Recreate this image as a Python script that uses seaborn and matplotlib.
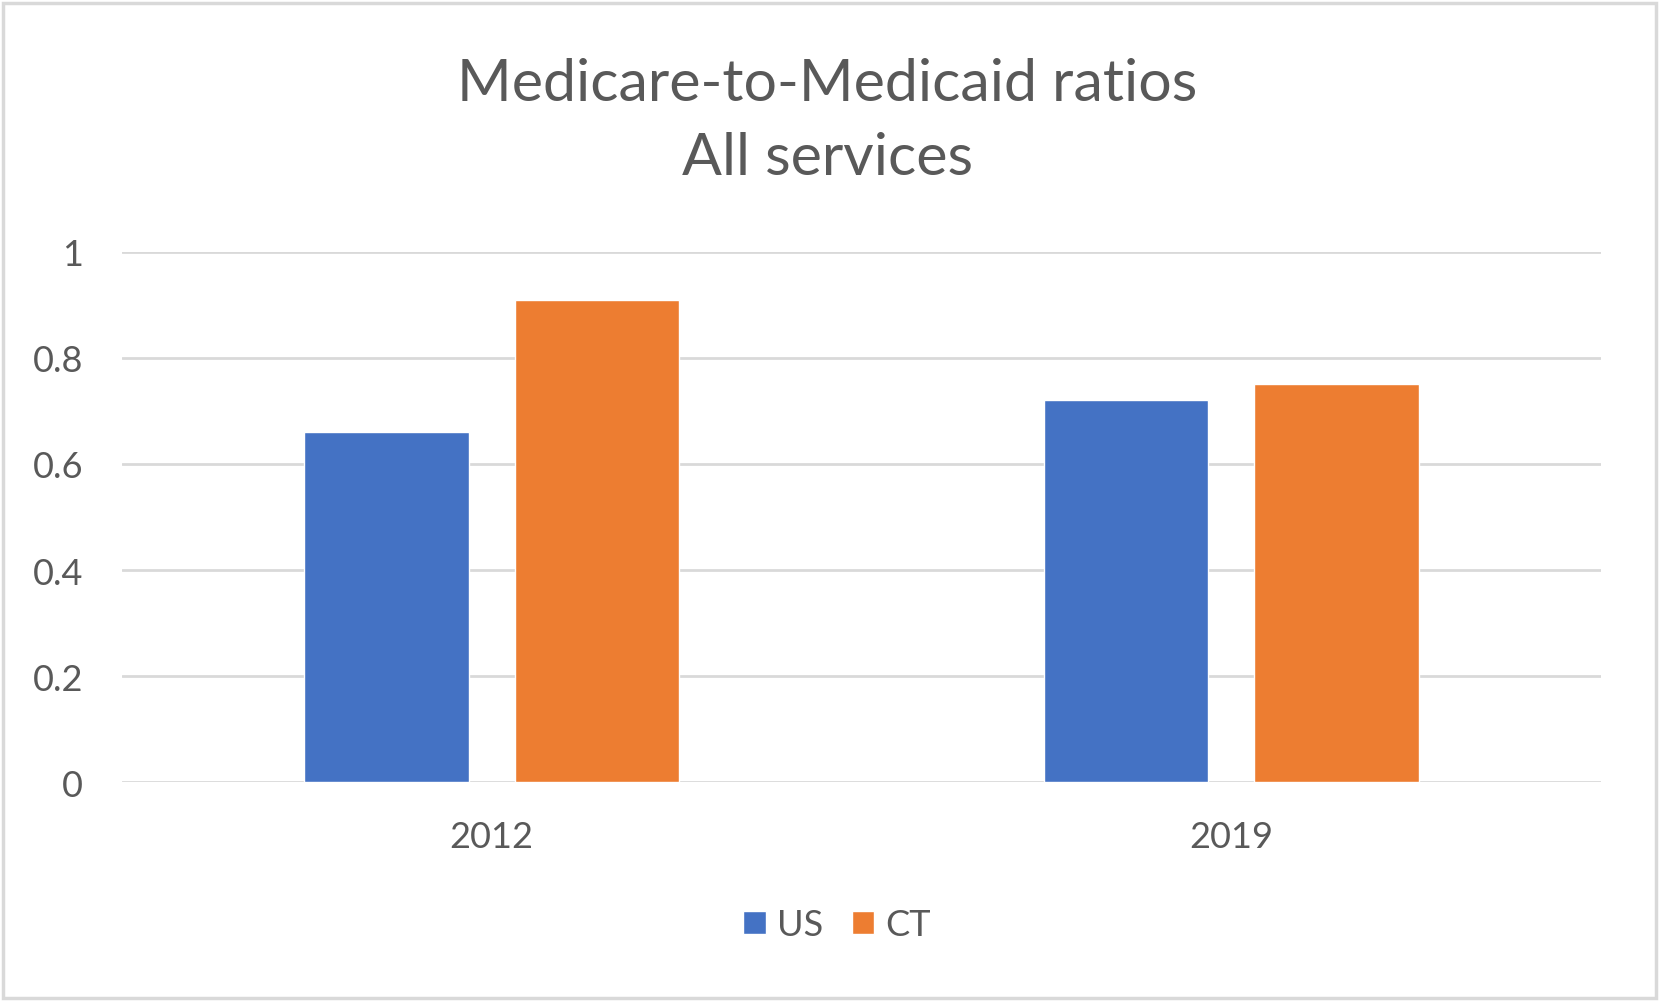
import matplotlib
matplotlib.use("Agg")
import matplotlib.pyplot as plt
import seaborn as sns
import pandas as pd
from matplotlib.patches import Rectangle

years = ["2012", "2019"]
series_names = ["US", "CT"]
us_values = [0.66, 0.72]
ct_values = [0.91, 0.75]
y_ticks = [0, 0.2, 0.4, 0.6, 0.8, 1]
y_tick_labels = ["0", "0.2", "0.4", "0.6", "0.8", "1"]
title_text = "Medicare-to-Medicaid ratios\nAll services"

df = pd.DataFrame({
    "year": years * 2,
    "series": [series_names[0]] * len(years) + [series_names[1]] * len(years),
    "value": us_values + ct_values,
})

sns.set_theme(style="white")
plt.rcParams["font.family"] = ["Lato", "DejaVu Sans"]

text_color = "#595959"
grid_color = "#d9d9d9"
palette = {"US": "#4472C4", "CT": "#ED7D31"}

fig = plt.figure(figsize=(16.59, 10.03), dpi=100)
fig.patch.set_facecolor("white")
fig.patches.append(Rectangle((0.002, 0.004), 0.996, 0.992, transform=fig.transFigure,
                             fill=False, edgecolor="#d9d9d9", linewidth=2.5))

ax = fig.add_axes([0.0735, 0.2193, 0.8915, 0.5285])
sns.barplot(data=df, x="year", y="value", hue="series", hue_order=series_names,
            order=years, palette=palette, width=0.57, gap=0.22, ax=ax,
            saturation=1, errorbar=None, legend=True)

ax.set_ylim(0, 1)
ax.set_xlim(-0.5, 1.5)
ax.set_yticks(y_ticks)
ax.set_yticklabels(y_tick_labels)
ax.yaxis.grid(True, color=grid_color, linewidth=2)
ax.set_axisbelow(True)
for s in ax.spines.values():
    s.set_visible(False)
ax.tick_params(axis="both", length=0, labelsize=26, colors=text_color)
ax.tick_params(axis="y", pad=28)
ax.tick_params(axis="x", pad=27)
for lbl in ax.get_yticklabels():
    lbl.set_horizontalalignment("right")
ax.set_xlabel("")
ax.set_ylabel("")

handles, labels = ax.get_legend_handles_labels()
ax.legend_.remove()
fig.legend(handles, labels, loc="center", bbox_to_anchor=(0.5045, 0.077), ncol=2,
           frameon=False, fontsize=26, labelcolor=text_color, handlelength=0.62,
           handleheight=0.62, handletextpad=0.3, columnspacing=0.8)

fig.text(0.4985, 0.879, title_text, ha="center", va="center", fontsize=42.5,
         color=text_color, linespacing=1.5)

fig.savefig("out.png", dpi=100)
